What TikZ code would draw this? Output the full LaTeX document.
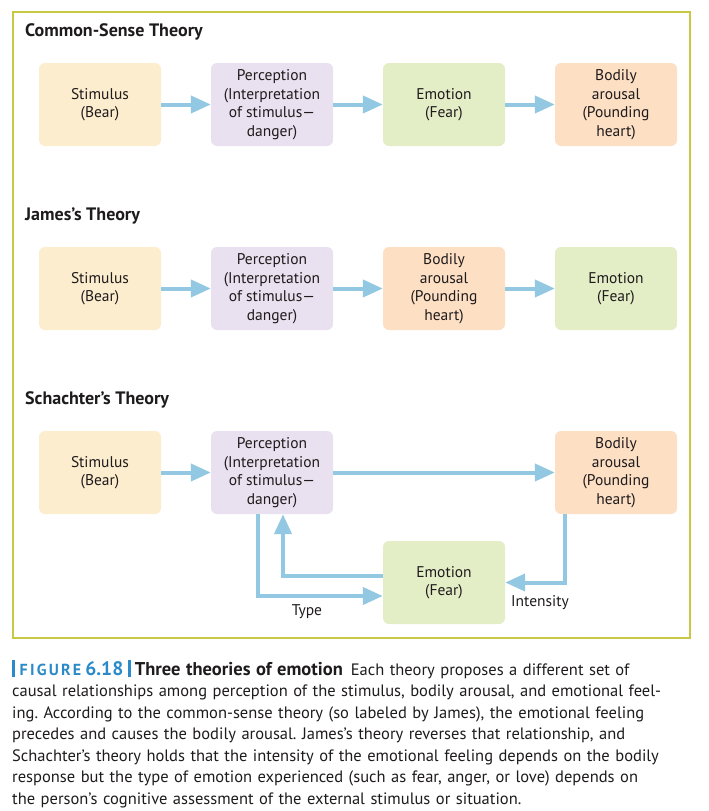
\documentclass[tikz,border=0pt]{standalone}
\usepackage{fontspec}
\setmainfont{PT Sans}
\usetikzlibrary{arrows.meta,positioning}

\definecolor{framegold}{HTML}{C9C842}
\definecolor{flowblue}{HTML}{92C8E2}
\definecolor{stimfill}{HTML}{FDEDCF}
\definecolor{percfill}{HTML}{E9E1EF}
\definecolor{emofill}{HTML}{E3EDC6}
\definecolor{bodyfill}{HTML}{FDDFC4}
\definecolor{inkgrey}{HTML}{1E1B1C}
\definecolor{figblue}{HTML}{2A8BC8}

\tikzset{
  theorybox/.style={rounded corners=6pt, minimum width=122pt, minimum height=83pt,
    inner sep=0pt, align=center, text=inkgrey,
    font=\fontsize{15.5}{18.5}\selectfont},
  theorytitle/.style={anchor=west, inner sep=0pt, text=inkgrey,
    font=\fontsize{18}{20}\selectfont\bfseries},
  flow/.style={line width=4pt, draw=flowblue,
    -{Triangle[length=20pt,width=17pt,fill=flowblue]}},
  flowlabel/.style={inner sep=0pt, text=inkgrey, font=\fontsize{15.5}{18}\selectfont}
}

\begin{document}
\begin{tikzpicture}[x=1pt,y=-1pt]
  \useasboundingbox (0,0) rectangle (709,811);
  \draw[framegold, line width=2pt] (13,12) rectangle (690,638);

  % common-sense theory
  \node[theorytitle] (cstitle) at (25,32) {Common-Sense Theory};
  \node[theorybox, fill=stimfill] (csstim) at (100,104.5) {Stimulus\\(Bear)};
  \node[theorybox, fill=percfill] (csperc) at (272,104.5) {Perception\\(Interpretation\\of stimulus---\\danger)};
  \node[theorybox, fill=emofill] (csemo) at (444,104.5) {Emotion\\(Fear)};
  \node[theorybox, fill=bodyfill] (csbody) at (616,104.5) {Bodily\\arousal\\(Pounding\\heart)};
  \draw[flow] (csstim) -- (csperc);
  \draw[flow] (csperc) -- (csemo);
  \draw[flow] (csemo) -- (csbody);

  % james's theory
  \node[theorytitle] (jmtitle) at (25,216) {James’s Theory};
  \node[theorybox, fill=stimfill] (jmstim) at (100,288.5) {Stimulus\\(Bear)};
  \node[theorybox, fill=percfill] (jmperc) at (272,288.5) {Perception\\(Interpretation\\of stimulus---\\danger)};
  \node[theorybox, fill=bodyfill] (jmbody) at (444,288.5) {Bodily\\arousal\\(Pounding\\heart)};
  \node[theorybox, fill=emofill] (jmemo) at (616,288.5) {Emotion\\(Fear)};
  \draw[flow] (jmstim) -- (jmperc);
  \draw[flow] (jmperc) -- (jmbody);
  \draw[flow] (jmbody) -- (jmemo);

  % schachter's theory
  \node[theorytitle] (sctitle) at (25,400) {Schachter’s Theory};
  \node[theorybox, fill=stimfill] (scstim) at (100,472.5) {Stimulus\\(Bear)};
  \node[theorybox, fill=percfill] (scperc) at (272,472.5) {Perception\\(Interpretation\\of stimulus---\\danger)};
  \node[theorybox, fill=bodyfill] (scbody) at (616,472.5) {Bodily\\arousal\\(Pounding\\heart)};
  \node[theorybox, fill=emofill] (scemo) at (444,582.5) {Emotion\\(Fear)};
  \draw[flow] (scstim) -- (scperc);
  \draw[flow] (scperc) -- (scbody);
  \draw[flow] ([xshift=-14pt]scperc.south) |- ([yshift=-13.5pt]scemo.west);
  \draw[flow] ([yshift=6.5pt]scemo.west) -| ([xshift=11pt]scperc.south);
  \draw[flow] ([xshift=-51pt]scbody.south) |- (scemo.east);
  \node[flowlabel] (typelbl) at (307,612) {Type};
  \node[flowlabel] (intenslbl) at (540,603) {Intensity};

  % caption
  \node[anchor=north west, inner sep=0pt, text width=695pt, text=inkgrey,
    font=\fontsize{16.5}{21.5}\selectfont] (caption) at (12,660) {\frenchspacing
    {\color{figblue}\rule[-2pt]{2.5pt}{17pt}\hspace{5pt}{\bfseries\addfontfeature{LetterSpace=14}\fontsize{16}{18}\selectfont FIGURE}\hspace{4pt}{\bfseries\fontsize{19.5}{21}\selectfont 6.18}\hspace{5pt}\rule[-2pt]{2.5pt}{17pt}}\hspace{4pt}{\bfseries\fontsize{18.5}{21}\selectfont Three theories of emotion}\hspace{8pt}Each theory proposes a different set of\linebreak
    causal relationships among perception of the stimulus, bodily arousal, and emotional feel-\linebreak
    ing. According to the common-sense theory (so labeled by James), the emotional feeling\linebreak
    precedes and causes the bodily arousal. James’s theory reverses that relationship, and\linebreak
    Schachter’s theory holds that the intensity of the emotional feeling depends on the bodily\linebreak
    response but the type of emotion experienced (such as fear, anger, or love) depends on\linebreak
    the person’s cognitive assessment of the external stimulus or situation.};
\end{tikzpicture}
\end{document}
